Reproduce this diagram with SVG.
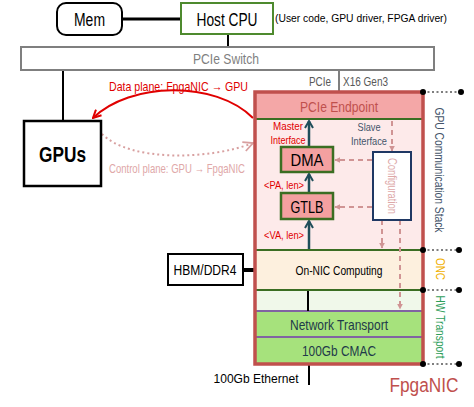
<svg xmlns="http://www.w3.org/2000/svg" width="474" height="407" viewBox="0 0 474 407">
<style>
text{font-family:"Liberation Sans",Arial,sans-serif;dominant-baseline:central;text-anchor:middle}
.pd{stroke:#D09494;stroke-width:2;stroke-dasharray:5,4;fill:none}
.teal{stroke:#1F4E5A;stroke-width:2.5;fill:none}
.dot{stroke:#000;stroke-width:1.2;stroke-dasharray:2,2.5;fill:none}
</style>
<defs>
<marker id="chevRed" viewBox="0 0 10 10" refX="9" refY="5" markerWidth="5" markerHeight="5" orient="auto-start-reverse" markerUnits="strokeWidth"><path d="M1,1 L9,5 L1,9" fill="none" stroke="#E00000" stroke-width="2"/></marker>
<marker id="chevPink" viewBox="0 0 10 10" refX="9" refY="5" markerWidth="6" markerHeight="6" orient="auto" markerUnits="strokeWidth"><path d="M1,1 L9,5 L1,9" fill="none" stroke="#D8A0A0" stroke-width="1.5"/></marker>
<marker id="chevTeal" viewBox="0 0 10 10" refX="8" refY="5" markerWidth="4" markerHeight="4" orient="auto" markerUnits="strokeWidth"><path d="M1,1 L8,5 L1,9" fill="none" stroke="#1F4E5A" stroke-width="2"/></marker>
<marker id="triPink" viewBox="0 0 10 10" refX="9" refY="5" markerWidth="3" markerHeight="3" orient="auto" markerUnits="strokeWidth"><path d="M0,0 L10,5 L0,10 Z" fill="#D09494"/></marker>
<marker id="ball" viewBox="0 0 10 10" refX="5" refY="5" markerWidth="6" markerHeight="6" markerUnits="userSpaceOnUse"><circle cx="5" cy="5" r="5" fill="#000"/></marker>
</defs>

<g id="connectors">
<line x1="122" y1="19" x2="181" y2="19" stroke="#000" stroke-width="3"/>
<line x1="228" y1="34" x2="228" y2="46" stroke="#000" stroke-width="2"/>
<line x1="63" y1="70" x2="63" y2="120" stroke="#000" stroke-width="2"/>
<line x1="339" y1="70" x2="339" y2="92" stroke="#555" stroke-width="1.5"/>
<line x1="243" y1="270" x2="256" y2="270" stroke="#000" stroke-width="4"/>
<line x1="309" y1="365" x2="309" y2="385" stroke="#000" stroke-width="2"/>
<path d="M253,118 C215,80 130,82 93,118" fill="none" stroke="#E00000" stroke-width="2" marker-end="url(#chevRed)"/>
<path d="M102,134 C130,162 210,160 253,143" fill="none" stroke="#D8A0A0" stroke-width="2" stroke-dasharray="2,3" marker-end="url(#chevPink)"/>
</g>

<g id="mem"><rect x="57" y="3" width="65" height="32" rx="9" fill="#fff" stroke="#000" stroke-width="2"/><text x="89.5" y="20" font-size="18" textLength="31" lengthAdjust="spacingAndGlyphs">Mem</text></g>
<g id="host-cpu"><rect x="181" y="3" width="92" height="31" fill="#fff" stroke="#4E8A2E" stroke-width="2"/><text x="227" y="20" font-size="18" textLength="61" lengthAdjust="spacingAndGlyphs">Host CPU</text></g>
<text x="361" y="18" font-size="11" textLength="172" lengthAdjust="spacingAndGlyphs">(User code, GPU driver, FPGA driver)</text>
<g id="pcie-switch"><rect x="21" y="47" width="413" height="23" fill="#fff" stroke="#7F7F7F" stroke-width="2"/><text x="226" y="59" font-size="14" fill="#7F7F7F" textLength="66" lengthAdjust="spacingAndGlyphs">PCIe Switch</text></g>
<text x="320" y="82" font-size="12" fill="#595959" textLength="22" lengthAdjust="spacingAndGlyphs">PCIe</text>
<text x="365.5" y="82" font-size="12" fill="#595959" textLength="45" lengthAdjust="spacingAndGlyphs">X16 Gen3</text>
<g id="gpus"><rect x="24" y="121" width="77" height="65" fill="#fff" stroke="#000" stroke-width="2.5"/><text x="62.5" y="154" font-size="22" font-weight="bold" textLength="47" lengthAdjust="spacingAndGlyphs">GPUs</text></g>
<text x="178.5" y="86" font-size="13" fill="#E00000" textLength="139" lengthAdjust="spacingAndGlyphs">Data plane:  FpgaNIC → GPU</text>
<text x="177" y="168" font-size="13" fill="#E0A8A8" textLength="136" lengthAdjust="spacingAndGlyphs">Control plane: GPU → FpgaNIC</text>

<g id="fpganic">
<rect x="255" y="92" width="168" height="272" fill="#FDEAEA"/>
<rect x="255" y="92" width="168" height="27" fill="#F4A7A7"/>
<rect x="255" y="250" width="168" height="40" fill="#FDF0DE"/>
<rect x="255" y="290" width="168" height="21" fill="#F0F8EA"/>
<rect x="255" y="311" width="168" height="53" fill="#A6E27C"/>
<line x1="255" y1="119" x2="423" y2="119" stroke="#3B6E22" stroke-width="2"/>
<line x1="255" y1="250" x2="423" y2="250" stroke="#3B6E22" stroke-width="2"/>
<line x1="255" y1="290" x2="423" y2="290" stroke="#3B6E22" stroke-width="2"/>
<line x1="255" y1="311" x2="423" y2="311" stroke="#8064A2" stroke-width="2"/>
<line x1="255" y1="337" x2="423" y2="337" stroke="#8064A2" stroke-width="2"/>
<rect x="255" y="92" width="168" height="272" fill="none" stroke="#C0504D" stroke-width="3.5"/>
<text x="339" y="106" font-size="15" fill="#C0504D" textLength="78" lengthAdjust="spacingAndGlyphs">PCIe Endpoint</text>
<text x="339" y="271" font-size="12" textLength="87" lengthAdjust="spacingAndGlyphs">On-NIC Computing</text>
<text x="339" y="324" font-size="15" fill="#1F3A4A" textLength="98" lengthAdjust="spacingAndGlyphs">Network Transport</text>
<text x="339" y="350" font-size="15" fill="#1F3A4A" textLength="74" lengthAdjust="spacingAndGlyphs">100Gb CMAC</text>
<text x="424" y="385" font-size="20" fill="#C0504D" textLength="69" lengthAdjust="spacingAndGlyphs">FpgaNIC</text>
</g>

<g id="inner-arrows">
<line x1="309" y1="147" x2="309" y2="121" class="teal" marker-end="url(#chevTeal)"/>
<line x1="309" y1="193" x2="309" y2="174" class="teal" marker-end="url(#chevTeal)"/>
<line x1="309" y1="249" x2="309" y2="221" class="teal" marker-end="url(#chevTeal)"/>
<line x1="308" y1="291" x2="308" y2="311" stroke="#000" stroke-width="2"/>
<line x1="372" y1="160" x2="335" y2="160" class="pd" marker-end="url(#triPink)"/>
<line x1="372" y1="207" x2="335" y2="207" class="pd" marker-end="url(#triPink)"/>
<line x1="392" y1="121" x2="392" y2="151" class="pd" marker-end="url(#triPink)"/>
<line x1="382" y1="220" x2="382" y2="248" class="pd" marker-end="url(#triPink)"/>
<line x1="400" y1="220" x2="400" y2="309" class="pd" marker-end="url(#triPink)"/>
</g>

<g id="dma"><rect x="281" y="147" width="52" height="25" fill="#F4A0A0" stroke="#3B6E22" stroke-width="2.5"/><text x="307" y="160" font-size="17" textLength="33" lengthAdjust="spacingAndGlyphs">DMA</text></g>
<g id="gtlb"><rect x="281" y="193" width="52" height="26" fill="#F4A0A0" stroke="#3B6E22" stroke-width="2.5"/><text x="307" y="207" font-size="17" textLength="33" lengthAdjust="spacingAndGlyphs">GTLB</text></g>
<g id="configuration"><rect x="373" y="152" width="38" height="68" fill="#fff" stroke="#1F3864" stroke-width="2"/><text transform="translate(392,186) rotate(90)" font-size="12" fill="#DDA8A8" textLength="56" lengthAdjust="spacingAndGlyphs">Configuration</text></g>
<text x="288" y="126" font-size="11" fill="#E00000" textLength="30" lengthAdjust="spacingAndGlyphs">Master</text>
<text x="288" y="140" font-size="11" fill="#E00000" textLength="35" lengthAdjust="spacingAndGlyphs">Interface</text>
<text x="369" y="127" font-size="11" fill="#44546A" textLength="23" lengthAdjust="spacingAndGlyphs">Slave</text>
<text x="369" y="141" font-size="11" fill="#44546A" textLength="36" lengthAdjust="spacingAndGlyphs">Interface</text>
<text x="284" y="185" font-size="11" fill="#E00000" textLength="40" lengthAdjust="spacingAndGlyphs">&lt;PA, len&gt;</text>
<text x="284" y="235" font-size="11" fill="#E00000" textLength="40" lengthAdjust="spacingAndGlyphs">&lt;VA, len&gt;</text>

<g id="hbm"><rect x="168" y="254" width="75" height="31" fill="#fff" stroke="#000" stroke-width="2"/><text x="205" y="270" font-size="14" textLength="63" lengthAdjust="spacingAndGlyphs">HBM/DDR4</text></g>
<text x="256" y="378" font-size="13" textLength="85" lengthAdjust="spacingAndGlyphs">100Gb Ethernet</text>

<g id="side-labels">
<line x1="423" y1="92" x2="461" y2="92" class="dot" marker-start="url(#ball)" marker-end="url(#ball)"/>
<line x1="423" y1="250" x2="459" y2="250" class="dot" marker-start="url(#ball)" marker-end="url(#ball)"/>
<line x1="423" y1="290" x2="459" y2="290" class="dot" marker-start="url(#ball)" marker-end="url(#ball)"/>
<line x1="423" y1="364" x2="459" y2="364" class="dot" marker-start="url(#ball)" marker-end="url(#ball)"/>
<text transform="translate(439,170) rotate(90)" font-size="13" fill="#44546A" textLength="125" lengthAdjust="spacingAndGlyphs">GPU Communication  Stack</text>
<text transform="translate(440,269) rotate(90)" font-size="13" fill="#F0B000" textLength="22" lengthAdjust="spacingAndGlyphs">ONC</text>
<text transform="translate(440,327) rotate(90)" font-size="13" fill="#2E9E5A" textLength="63" lengthAdjust="spacingAndGlyphs">HW Transport</text>
</g>
</svg>
